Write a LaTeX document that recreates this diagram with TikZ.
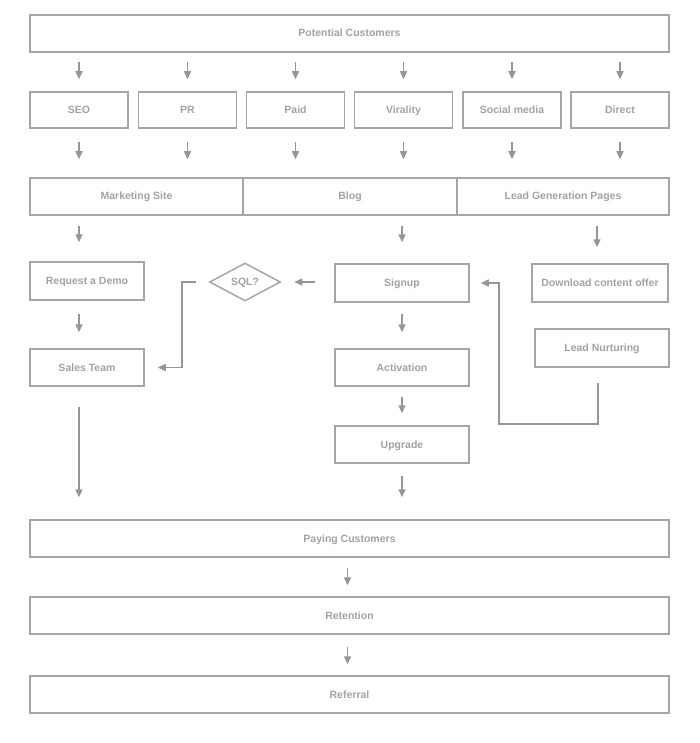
\documentclass[tikz,border=0pt]{standalone}
\usepackage{fontspec}
\setmainfont{Liberation Sans}
\usetikzlibrary{arrows.meta,shapes.geometric}
\definecolor{linegray}{HTML}{A6A6A6}
\definecolor{arrowgray}{HTML}{969696}
\definecolor{textgray}{HTML}{A2A2A2}
\begin{document}
\begin{tikzpicture}[x=1pt,y=-1pt,>={Triangle[width=7pt,length=8pt]},font=\fontsize{10.5}{12}\selectfont\bfseries,
 box/.style={draw=linegray,line width=1.5pt,minimum height=37pt,inner sep=0pt,text=textgray,text height=7pt,text depth=0pt},
 arr/.style={->,arrowgray,line width=1.5pt},
 gap/.style 2 args={shorten <=#1pt,shorten >=#2pt}]
\useasboundingbox (0,0) rectangle (700,743);
\node[box,minimum width=639pt] (pc) at (349.5,33.5) {Potential Customers};
\node[box,minimum width=98pt,minimum height=36pt] (seo) at (79,110) {SEO};
\node[box,minimum width=98pt,minimum height=36pt] (pr) at (187.5,110) {PR};
\node[box,minimum width=98pt,minimum height=36pt] (paid) at (295.5,110) {Paid};
\node[box,minimum width=98pt,minimum height=36pt] (vir) at (403.5,110) {Virality};
\node[box,minimum width=98pt,minimum height=36pt] (sm) at (512,110) {Social media};
\node[box,minimum width=98pt,minimum height=36pt] (dir) at (620,110) {Direct};
\draw[arr,gap={9}{12}] (seo |- pc.south) -- (seo.north); \draw[arr,gap={9}{12}] (pr |- pc.south) -- (pr.north);
\draw[arr,gap={9}{12}] (paid |- pc.south) -- (paid.north); \draw[arr,gap={9}{12}] (vir |- pc.south) -- (vir.north);
\draw[arr,gap={9}{12}] (sm |- pc.south) -- (sm.north); \draw[arr,gap={9}{12}] (dir |- pc.south) -- (dir.north);
% site row
\node[box,minimum width=213pt] (ms) at (136.5,196.5) {Marketing Site};
\node[box,minimum width=214pt] (blog) at (350,196.5) {Blog};
\node[box,minimum width=212pt] (lgp) at (563,196.5) {Lead Generation Pages};
\draw[arr,gap={13}{18}] (seo.south) -- (seo |- ms.north); \draw[arr,gap={13}{18}] (pr.south) -- (pr |- ms.north);
\draw[arr,gap={13}{18}] (paid.south) -- (paid |- ms.north); \draw[arr,gap={13}{18}] (vir.south) -- (vir |- ms.north);
\draw[arr,gap={13}{18}] (sm.south) -- (sm |- ms.north); \draw[arr,gap={13}{18}] (dir.south) -- (dir |- ms.north);
% sales side
\node[box,minimum width=114pt,minimum height=38pt] (rd) at (87,281) {Request a Demo};
\node[box,minimum width=114pt] (sales) at (87,367.5) {Sales Team};
\node[box,diamond,minimum width=71pt,minimum height=38pt] (sql) at (245,282) {SQL?};
\draw[arr,gap={10}{19}] (seo |- ms.south) -- (seo |- rd.north);
\draw[arr,gap={13}{16}] (seo |- rd.south) -- (seo |- sales.north);
\draw[arr,gap={13}{13}] (sql.west) -- ++(-27,0) |- (sales.east);
% product side
\node[box,minimum width=134pt,minimum height=38pt] (signup) at (402,283) {Signup};
\node[box,minimum width=134pt] (act) at (402,367.5) {Activation};
\node[box,minimum width=134pt] (upg) at (402,444.5) {Upgrade};
\draw[arr,gap={10}{21}] (signup |- blog.south) -- (signup.north);
\draw[arr,gap={19}{13}] (signup.west |- sql) -- (sql.east);
\draw[arr,gap={11}{16}] (signup.south) -- (act.north);
\draw[arr,gap={10}{12}] (act.south) -- (upg.north);
% lead gen side
\node[box,minimum width=136pt,minimum height=38pt] (dco) at (600,283) {Download content offer};
\node[box,minimum width=134pt,minimum height=38pt] (ln) at (602,348) {Lead Nurturing};
\draw[arr,gap={10}{16}] ([xshift=-3pt]dco |- lgp.south) -- ([xshift=-3pt]dco.north);
\draw[arr,gap={15}{11}] ([xshift=-4pt]ln.south) -- ++(0,56) -| ([xshift=29pt]signup.east) -- (signup.east);
% bottom
\node[box,minimum width=639pt] (pay) at (349.5,538.5) {Paying Customers};
\node[box,minimum width=639pt] (ret) at (349.5,615.5) {Retention};
\node[box,minimum width=639pt] (ref) at (349.5,694.5) {Referral};
\draw[arr,gap={20}{22}] (seo |- sales.south) -- (seo |- pay.north);
\draw[arr,gap={12}{22}] (upg.south) -- (upg |- pay.north);
\draw[arr,gap={10}{11}] ([xshift=-2pt]pay.south) -- ([xshift=-2pt]ret.north);
\draw[arr,gap={12}{11}] ([xshift=-2pt]ret.south) -- ([xshift=-2pt]ref.north);
\end{tikzpicture}
\end{document}
